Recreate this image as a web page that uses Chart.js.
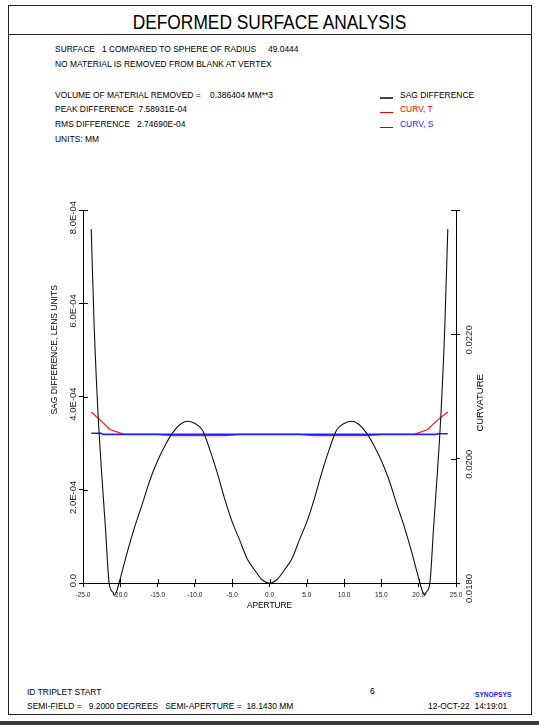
<!DOCTYPE html>
<html>
<head>
<meta charset="utf-8">
<script src="https://cdn.jsdelivr.net/npm/chart.js@4.4.1/dist/chart.umd.min.js"></script>
<style>
html,body{margin:0;padding:0;background:#fff;}
#page{position:relative;width:539px;height:725px;overflow:hidden;font-family:Arial,"Liberation Sans",sans-serif;color:#000;}
#frame{position:absolute;left:8px;top:5px;width:524px;height:710px;border:1px solid #222;box-sizing:border-box;}
#titleRule{position:absolute;left:8px;top:34px;width:524px;height:1px;background:#222;}
#band{position:absolute;left:0;top:721px;width:539px;height:4px;background:#3a3a3a;}
#cw{position:absolute;left:0;top:0;width:539px;height:725px;}
.t{position:absolute;white-space:pre;line-height:12px;font-size:9.6px;transform:scaleX(.88);transform-origin:0 50%;}
#title{position:absolute;left:0;width:539px;top:9.5px;line-height:24px;font-size:19.5px;text-align:center;transform:scaleX(.89);transform-origin:269px 50%;white-space:pre;}
.lg{position:absolute;left:380px;width:13px;height:1.5px;}
</style>
</head>
<body>
<div id="page">
  <div id="frame"></div>
  <div id="titleRule"></div>
  <div id="band"></div>
  <div id="title">DEFORMED SURFACE ANALYSIS</div>
  <div class="t" style="left:55px;top:43px">SURFACE   1 COMPARED TO SPHERE OF RADIUS     49.0444</div>
  <div class="t" style="left:55px;top:58px">NO MATERIAL IS REMOVED FROM BLANK AT VERTEX</div>
  <div class="t" style="left:55px;top:88.5px">VOLUME OF MATERIAL REMOVED =    0.386404 MM**3</div>
  <div class="t" style="left:55px;top:103px">PEAK DIFFERENCE  7.58931E-04</div>
  <div class="t" style="left:55px;top:118px">RMS DIFFERENCE   2.74690E-04</div>
  <div class="t" style="left:55px;top:132.5px">UNITS: MM</div>

  <div class="lg" style="top:97px;background:#444"></div>
  <div class="lg" style="top:111.5px;background:#ff0000"></div>
  <div class="lg" style="top:126.5px;background:#2020ff"></div>
  <div class="t" style="left:400px;top:88.5px">SAG DIFFERENCE</div>
  <div class="t" style="left:400px;top:103px;color:#ff0000">CURV, T</div>
  <div class="t" style="left:400px;top:118px;color:#2020ff">CURV, S</div>

  <div class="t" style="left:27px;top:685.5px">ID TRIPLET START</div>
  <div class="t" style="left:27px;top:700.3px">SEMI-FIELD =   9.2000 DEGREES   SEMI-APERTURE =  18.1430 MM</div>
  <div class="t" style="left:370px;top:685px">6</div>
  <div class="t" style="left:475px;top:689px;font-size:7.5px;font-weight:bold;color:#1a1aff">SYNOPSYS</div>
  <div class="t" style="left:428px;top:699.7px">12-OCT-22  14:19:01</div>

  <div id="cw"><canvas id="c"></canvas></div>
</div>
<script>
// ---- data ----
const sagAperture = [-23.9,-23.5,-23,-22.5,-22,-21.5,-21,-20.8,-20.5,-20,-19.5,-19,-18,-17,-16,-15,-14,-13,-12,-11,-10,-9,-8,-7,-6,-5,-4,-3,-2,-1,0,
                     1,2,3,4,5,6,7,8,9,10,11,12,13,14,15,16,17,18,19,19.5,20,20.5,20.8,21,21.5,22,22.5,23,23.5,23.9];
const sagValues = [7.59e-4,5.5e-4,3.68e-4,2.36e-4,1.2e-4,0,-0.2e-4,-0.26e-4,-0.18e-4,0.1e-4,0.4e-4,0.7e-4,1.24e-4,1.72e-4,2.22e-4,2.62e-4,2.95e-4,3.22e-4,3.40e-4,3.47e-4,3.42e-4,3.28e-4,2.86e-4,2.36e-4,1.80e-4,1.31e-4,0.92e-4,0.52e-4,0.28e-4,0.07e-4,0,
                   0.07e-4,0.28e-4,0.52e-4,0.92e-4,1.31e-4,1.80e-4,2.36e-4,2.86e-4,3.28e-4,3.42e-4,3.47e-4,3.40e-4,3.22e-4,2.95e-4,2.62e-4,2.22e-4,1.72e-4,1.24e-4,0.7e-4,0.4e-4,0.1e-4,-0.18e-4,-0.26e-4,-0.2e-4,0,1.2e-4,2.36e-4,3.68e-4,5.5e-4,7.59e-4];
const curvTAperture = [-23.9,-22.5,-21.4,-19.5,-15,-13,-6,-4,0,4,6,13,15,19.4,21.2,22.5,23.9];
const curvTValues   = [0.02075,0.02060,0.02047,0.02039,0.02039,0.02037,0.02037,0.02039,0.02039,0.02039,0.02037,0.02037,0.02039,0.02039,0.02047,0.02062,0.02075];
const curvSAperture = [-23.9,-22.6,-22.3,0,22.3,22.6,23.9];
const curvSValues   = [0.02041,0.02041,0.02039,0.02039,0.02039,0.02040,0.02040];

const xTickValues = [-25,-20,-15,-10,-5,0,5,10,15,20,25];
const xTickLabels = ['-25.0','-20.0','-15.0','-10.0','-5.0','0.0','5.0','10.0','15.0','20.0','25.0'];
const sagTickValues = [0,0.0002,0.0004,0.0006,0.0008];
const sagTickLabels = ['0.0','2.0E-04','4.0E-04','6.0E-04','8.0E-04'];
const curvTickValues = [0.018,0.020,0.022,0.024];
const curvTickLabels = ['0.0180','0.0200','0.0220',''];

const xAxisTitle = 'APERTURE';
const sagAxisTitle = 'SAG DIFFERENCE, LENS UNITS';
const curvAxisTitle = 'CURVATURE';
const seriesNames = ['SAG DIFFERENCE','CURV, T','CURV, S'];

const FAM = 'Arial, "Liberation Sans", sans-serif';
const TL = 4;
const zip = (xs, ys) => xs.map((x, i) => ({x: x, y: ys[i]}));

function rotText(ctx, text, x, y, align) {
  ctx.save();
  ctx.translate(x, y); ctx.rotate(-Math.PI / 2);
  ctx.textAlign = align; ctx.textBaseline = 'middle';
  ctx.fillText(text, 0, 0);
  ctx.restore();
}

const axisExtras = {
  id: 'axisExtras',
  afterDraw(chart) {
    const {ctx, chartArea: a, scales: {x, y, y1}} = chart;
    ctx.save();
    // inward halves of the crossing tick marks
    ctx.strokeStyle = '#000'; ctx.lineWidth = 1;
    ctx.beginPath();
    x.ticks.forEach(t => { const p = Math.round(x.getPixelForValue(t.value)) + 0.5; ctx.moveTo(p, a.bottom); ctx.lineTo(p, a.bottom - 4); });
    y.ticks.forEach(t => { const p = Math.round(y.getPixelForValue(t.value)) + 0.5; ctx.moveTo(a.left, p); ctx.lineTo(a.left + 5, p); });
    y1.ticks.forEach(t => { const p = Math.round(y1.getPixelForValue(t.value)) + 0.5; ctx.moveTo(a.right, p); ctx.lineTo(a.right - 5, p); });
    ctx.stroke();
    // rotated tick labels, ending just above each tick
    ctx.fillStyle = '#222';
    ctx.font = '9.5px ' + FAM;
    y.ticks.forEach((t, i) => rotText(ctx, sagTickLabels[i], a.left - 10, y.getPixelForValue(t.value) - 9, 'right'));
    y1.ticks.forEach((t, i) => rotText(ctx, curvTickLabels[i], a.right + 13, y1.getPixelForValue(t.value) - 9, 'right'));
    // axis titles
    ctx.fillStyle = '#000';
    const h = a.bottom - a.top;
    ctx.font = '8.5px ' + FAM;
    rotText(ctx, sagAxisTitle, a.left - 28, a.top + h * 0.375, 'center');
    ctx.font = '9.5px ' + FAM;
    rotText(ctx, curvAxisTitle, a.right + 24, a.top + h * 0.517, 'center');
    ctx.restore();
  }
};

new Chart(document.getElementById('c'), {
  type: 'line',
  data: {
    datasets: [
      {label: seriesNames[0], data: zip(sagAperture, sagValues), yAxisID: 'y', borderColor: '#111', borderWidth: 1.1,
       cubicInterpolationMode: 'monotone', pointRadius: 0, clip: false, order: 0},
      {label: seriesNames[2], data: zip(curvSAperture, curvSValues), yAxisID: 'y1', borderColor: '#2020ff', borderWidth: 1.6,
       tension: 0, pointRadius: 0, clip: false, order: 1},
      {label: seriesNames[1], data: zip(curvTAperture, curvTValues), yAxisID: 'y1', borderColor: '#ff1010', borderWidth: 1.2,
       tension: 0, pointRadius: 0, clip: false, order: 2}
    ]
  },
  options: {
    responsive: true, maintainAspectRatio: false, animation: false,
    layout: {padding: {top: 210, left: 0, right: 0, bottom: 0}},
    plugins: {legend: {display: false}, title: {display: false}, tooltip: {enabled: false}},
    events: [],
    scales: {
      x: {
        type: 'linear', position: 'bottom', min: -25, max: 25,
        afterBuildTicks: s => { s.ticks = xTickValues.map(v => ({value: v})); },
        afterFit: s => { s.height = 142; },
        ticks: {autoSkip: false, maxRotation: 0, minRotation: 0, padding: 4.1, color: '#222',
                font: {family: FAM, size: 6.5}, callback: (v, i) => xTickLabels[i]},
        grid: {drawOnChartArea: false, color: '#000', tickLength: TL, tickWidth: 1},
        border: {color: '#000', width: 1},
        title: {display: true, text: xAxisTitle, color: '#000', font: {family: FAM, size: 8.3}, padding: {top: 0, bottom: 114}}
      },
      y: {
        type: 'linear', position: 'left', min: 0, max: 0.0008,
        afterBuildTicks: s => { s.ticks = sagTickValues.map(v => ({value: v})); },
        afterFit: s => { s.width = 83; },
        ticks: {display: false, autoSkip: false, callback: (v, i) => sagTickLabels[i]},
        grid: {drawOnChartArea: false, color: '#000', tickLength: TL, tickWidth: 1},
        border: {color: '#000', width: 1}
      },
      y1: {
        type: 'linear', position: 'right', min: 0.018, max: 0.024,
        afterBuildTicks: s => { s.ticks = curvTickValues.map(v => ({value: v})); },
        afterFit: s => { s.width = 83; },
        ticks: {display: false, autoSkip: false, callback: (v, i) => curvTickLabels[i]},
        grid: {drawOnChartArea: false, color: '#000', tickLength: TL, tickWidth: 1},
        border: {color: '#000', width: 1}
      }
    }
  },
  plugins: [axisExtras]
});
</script>
</body>
</html>
